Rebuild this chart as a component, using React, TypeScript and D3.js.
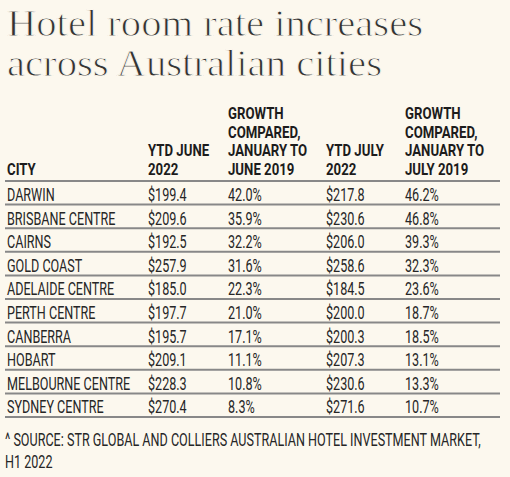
import React from "react";
import * as d3 from "d3";

const titleLines = ["Hotel room rate increases", "across Australian cities"];
const columnHeaders: string[][] = [
  ["CITY"],
  ["YTD JUNE", "2022"],
  ["GROWTH", "COMPARED,", "JANUARY TO", "JUNE 2019"],
  ["YTD JULY", "2022"],
  ["GROWTH", "COMPARED,", "JANUARY TO", "JULY 2019"],
];
const cities = [
  "DARWIN",
  "BRISBANE CENTRE",
  "CAIRNS",
  "GOLD COAST",
  "ADELAIDE CENTRE",
  "PERTH CENTRE",
  "CANBERRA",
  "HOBART",
  "MELBOURNE CENTRE",
  "SYDNEY CENTRE",
];
const ytdJune2022 = [199.4, 209.6, 192.5, 257.9, 185.0, 197.7, 195.7, 209.1, 228.3, 270.4];
const growthJune2019 = [42.0, 35.9, 32.2, 31.6, 22.3, 21.0, 17.1, 11.1, 10.8, 8.3];
const ytdJuly2022 = [217.8, 230.6, 206.0, 258.6, 184.5, 200.0, 200.3, 207.3, 230.6, 271.6];
const growthJuly2019 = [46.2, 46.8, 39.3, 32.3, 23.6, 18.7, 18.5, 13.1, 13.3, 10.7];
const sourceLines = [
  "^ SOURCE: STR GLOBAL AND COLLIERS AUSTRALIAN HOTEL INVESTMENT MARKET,",
  "H1 2022",
];

const W = 510;
const H = 477;
const BG = "#fcf8ee";
const SANS = "Roboto, 'Noto Sans', sans-serif";
const SERIF = "'Liberation Serif', 'DejaVu Serif', serif";

export default function App() {
  const colKeys = ["city", "june", "gjune", "july", "gjuly"];
  const x = d3.scaleOrdinal<string, number>().domain(colKeys).range([7, 148, 228, 326, 405]);
  const y = d3
    .scaleBand<string>()
    .domain(cities)
    .range([181, 181 + 23.6 * cities.length])
    .padding(0);
  const money = (v: number) => "$" + d3.format(".1f")(v);
  const pct = (v: number) => d3.format(".1f")(v) + "%";

  const rows = cities.map((c, i) => [
    c,
    money(ytdJune2022[i]),
    pct(growthJune2019[i]),
    money(ytdJuly2022[i]),
    pct(growthJuly2019[i]),
  ]);

  const headerBottom = 175;
  const headerStep = 18.7;
  const bodySX = 0.7;
  const headSX = 0.8;

  return (
    <svg
      width={W}
      height={H}
      style={{ position: "absolute", left: 0, top: 0, display: "block" }}
    >
      <rect x={0} y={0} width={W} height={H} fill={BG} />
      {titleLines.map((t, i) => (
        <text
          key={t}
          x={7}
          y={36 + i * 40}
          fontFamily={SERIF}
          fontSize={38}
          fill="#333"
          stroke={BG}
          strokeWidth={0.9}
          textLength={i === 0 ? 416 : 375}
          lengthAdjust="spacingAndGlyphs"
        >
          {t}
        </text>
      ))}
      {columnHeaders.map((lines, ci) =>
        lines.map((ln, li) => (
          <text
            key={ci + "-" + li}
            transform={`translate(${x(colKeys[ci])},${headerBottom - (lines.length - 1 - li) * headerStep}) scale(${headSX},1)`}
            fontFamily={SANS}
            fontWeight={700}
            fontSize={16.5}
            fill="#1c1c1c"
          >
            {ln}
          </text>
        ))
      )}
      <line x1={5} x2={500} y1={181} y2={181} stroke="#888" strokeWidth={2} />
      {rows.map((r, ri) => (
        <g key={cities[ri]}>
          {r.map((cell, ci) => (
            <text
              key={ci}
              transform={`translate(${x(colKeys[ci])},${(y(cities[ri]) as number) + 20}) scale(${bodySX},1)`}
              fontFamily={SANS}
              fontSize={18}
              fill="#262626"
            >
              {cell}
            </text>
          ))}
          <line
            x1={5}
            x2={500}
            y1={(y(cities[ri]) as number) + y.bandwidth()}
            y2={(y(cities[ri]) as number) + y.bandwidth()}
            stroke="#888"
            strokeWidth={2}
          />
        </g>
      ))}
      {sourceLines.map((s, i) => (
        <text
          key={i}
          transform={`translate(5,${446 + i * 22}) scale(${bodySX},1)`}
          fontFamily={SANS}
          fontSize={18}
          fill="#262626"
        >
          {s}
        </text>
      ))}
    </svg>
  );
}
